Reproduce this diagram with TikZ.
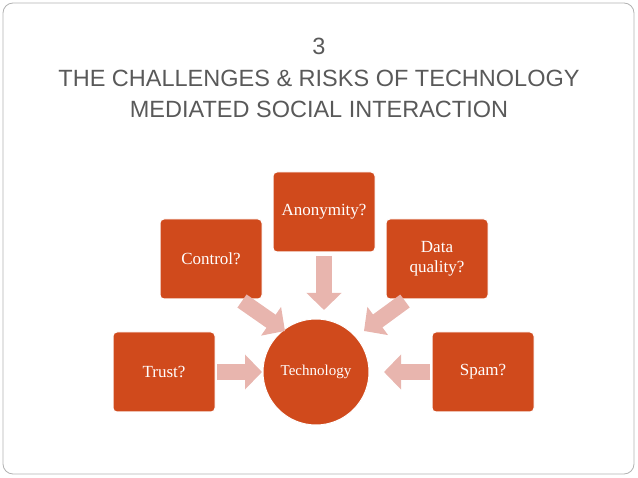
\documentclass[tikz,border=0pt]{standalone}
\usepackage{fontspec}
\setmainfont{Liberation Serif}
\newfontfamily\titlefont{Liberation Sans}
\usetikzlibrary{arrows.meta}
\definecolor{boxred}{HTML}{D04A1C}
\definecolor{arrowpink}{HTML}{E8B5AE}
\definecolor{titlegray}{HTML}{595959}
\begin{document}
\begin{tikzpicture}[x=1pt,y=-1pt,
  box/.style={draw=white,line width=1pt,fill=boxred,rounded corners=4pt,minimum width=102pt,minimum height=80pt,text=white,font=\fontsize{17}{20}\selectfont,align=center},
  blockarrow/.style={draw=arrowpink,line width=16pt,-{Triangle[width=34pt,length=17pt]}},
  titletext/.style={text=titlegray,font=\titlefont\fontsize{23.5}{31.5}\selectfont,align=center}]
\useasboundingbox (0,0) rectangle (638,478);
\draw[gray!60,line width=0.8pt,rounded corners=10pt] (3,3) rectangle (634,474);
\node[titletext] (title) at (319,78) {3\\THE CHALLENGES \& RISKS OF TECHNOLOGY\\MEDIATED SOCIAL INTERACTION};
\node[box] (anon) at (324,212) {Anonymity?};
\node[box] (ctrl) at (211,259) {Control?};
\node[box] (data) at (437,259) {Data\\quality?};
\node[box] (trust) at (164,372) {Trust?};
\node[box] (spam) at (483,372) {Spam?};
\node[circle,fill=boxred,draw=white,line width=1pt,minimum size=106pt,text=white,font=\fontsize{15}{17}\selectfont] (tech) at (316,372) {Technology};
\coordinate (a1) at (324,256); \coordinate (a2) at (324,310);
\coordinate (c1) at (242,301); \coordinate (c2) at (285,331);
\coordinate (d1) at (405,301); \coordinate (d2) at (364,331);
\coordinate (t1) at (217,372); \coordinate (t2) at (262,372);
\coordinate (s1) at (430,372); \coordinate (s2) at (384,372);
\draw[blockarrow] (a1) -- (a2);
\draw[blockarrow] (c1) -- (c2);
\draw[blockarrow] (d1) -- (d2);
\draw[blockarrow] (t1) -- (t2);
\draw[blockarrow] (s1) -- (s2);
\end{tikzpicture}
\end{document}
